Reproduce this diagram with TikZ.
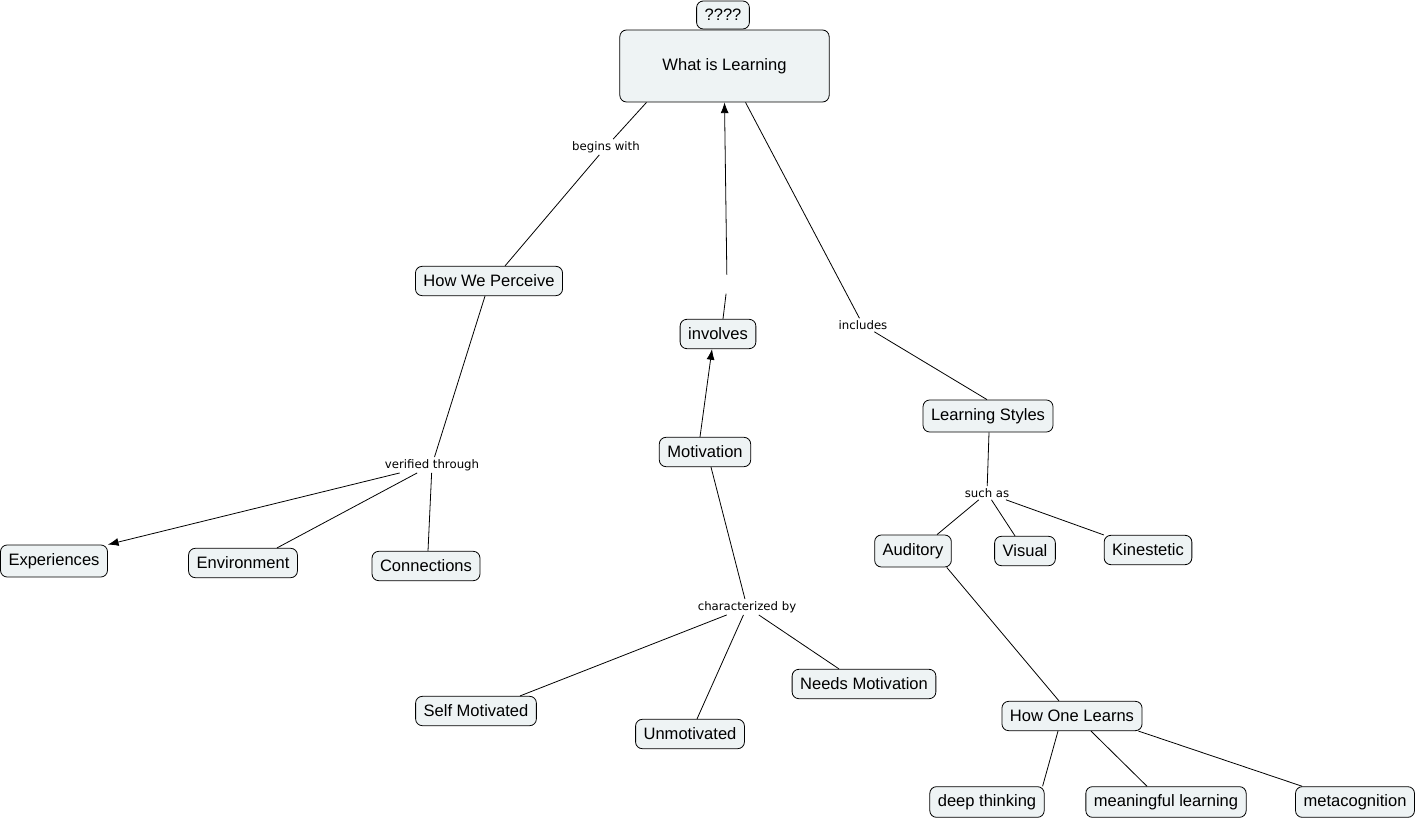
\documentclass[tikz,border=0pt]{standalone}
\usepackage{fontspec}
\setmainfont{Liberation Sans}
\newfontfamily\linkfont{DejaVu Sans}
\usetikzlibrary{arrows.meta, calc}
\definecolor{conceptfill}{HTML}{EEF3F4}

\begin{document}
\begin{tikzpicture}[x = 0.75pt, y = -0.75pt,
        concept/.style = {draw, fill = conceptfill, rounded corners = 5pt, line width = 0.6pt, inner xsep = 6pt, minimum height = 22pt, font = \fontsize{12.4}{14}\selectfont},
        linkword/.style = {inner sep = 1.5pt, font = \linkfont\fontsize{8.8}{10}\selectfont},
        link/.style = {line width = 0.6pt},
        arrowlink/.style = {link, -{Latex[length = 8pt, width = 6pt]}}]
    \useasboundingbox (0, 0) rectangle (1417, 823);

    % concepts
    \node[concept, minimum width = 157pt, minimum height = 54pt] (wil) at (724.5, 66) {What is Learning};
    \node[concept, minimum width = 36pt, minimum height = 21pt] (qq) at (723, 15) {????};
    \node[concept] (hwp) at (489, 281) {How We Perceive};
    \node[concept] (inv) at (718, 334) {involves};
    \node[concept] (mot) at (705, 452) {Motivation};
    \node[concept, minimum height = 24pt] (ls) at (988, 416) {Learning Styles};
    \node[concept, minimum height = 24pt] (exp) at (54, 561) {Experiences};
    \node[concept] (env) at (243, 563) {Environment};
    \node[concept] (con) at (426, 566) {Connections};
    \node[concept, minimum height = 24pt] (aud) at (913, 551) {Auditory};
    \node[concept] (vis) at (1025, 551) {Visual};
    \node[concept] (kin) at (1148, 550) {Kinestetic};
    \node[concept] (self) at (476, 711) {Self Motivated};
    \node[concept] (unm) at (690, 734) {Unmotivated};
    \node[concept] (need) at (864, 684) {Needs Motivation};
    \node[concept] (hol) at (1072, 716) {How One Learns};
    \node[concept, minimum height = 23pt] (deep) at (987, 802) {deep thinking};
    \node[concept, minimum height = 23pt] (mean) at (1166, 802) {meaningful learning};
    \node[concept, minimum height = 23pt] (meta) at (1355, 802) {metacognition};

    % linking words
    \node[linkword] (bw) at (606, 147) {begins with};
    \node[linkword] (vt) at (432, 465) {verified through};
    \node[linkword] (inc) at (863, 325) {includes};
    \node[linkword] (sa) at (987, 493) {such as};
    \node[linkword] (cb) at (747, 607) {characterized by};
    \node[inner sep = 0.5pt, minimum height = 16.5pt] (gap) at (727, 286) {};

    % connectors
    \draw[link] ($(wil.south) + (-78, 0)$) -- (bw);
    \draw[link] (bw) -- ($(hwp.north) + (16, 0)$);
    \draw[link] ($(hwp.south) + (-4, 0)$) -- (vt);
    \draw[arrowlink] (vt) -- (exp.north east);
    \draw[link] (vt) -- ($(env.north) + (34, 0)$);
    \draw[link] (vt) -- ($(con.north) + (2, 0)$);

    \draw[link] ($(wil.south) + (21, 0)$) -- (inc);
    \draw[link] (inc) -- ($(ls.north) + (-1, 0)$);
    \draw[link] ($(ls.south) + (1, 0)$) -- (sa);
    \draw[link] (sa) -- ($(aud.north) + (24, 0)$);
    \draw[link] (sa) -- ($(vis.north) + (-10, 0)$);
    \draw[link] (sa) -- (kin.north west);
    \draw[link] ($(aud.south east) + (-5, 0)$) -- ($(hol.north) + (-13, 0)$);
    \draw[link] ($(hol.south) + (-14, 0)$) -- ($(deep.north east) + (-2, 0)$);
    \draw[link] ($(hol.south) + (19, 0)$) -- ($(mean.north) + (-19, 0)$);
    \draw[link] ($(hol.south east) + (-4, 0)$) -- ($(meta.north west) + (7, 0)$);

    \draw[arrowlink] ($(mot.north) + (-5, 0)$) -- ($(inv.south) + (-6, 0)$);
    \draw[link] ($(inv.north) + (5, 0)$) -- (gap);
    \draw[arrowlink] (gap) -- (wil.south);
    \draw[link] ($(mot.south) + (6, 0)$) -- (cb);
    \draw[link] (cb) -- ($(self.north) + (44, 0)$);
    \draw[link] (cb) -- ($(unm.north) + (7, 0)$);
    \draw[link] (cb) -- ($(need.north) + (-25, 0)$);
\end{tikzpicture}
\end{document}
